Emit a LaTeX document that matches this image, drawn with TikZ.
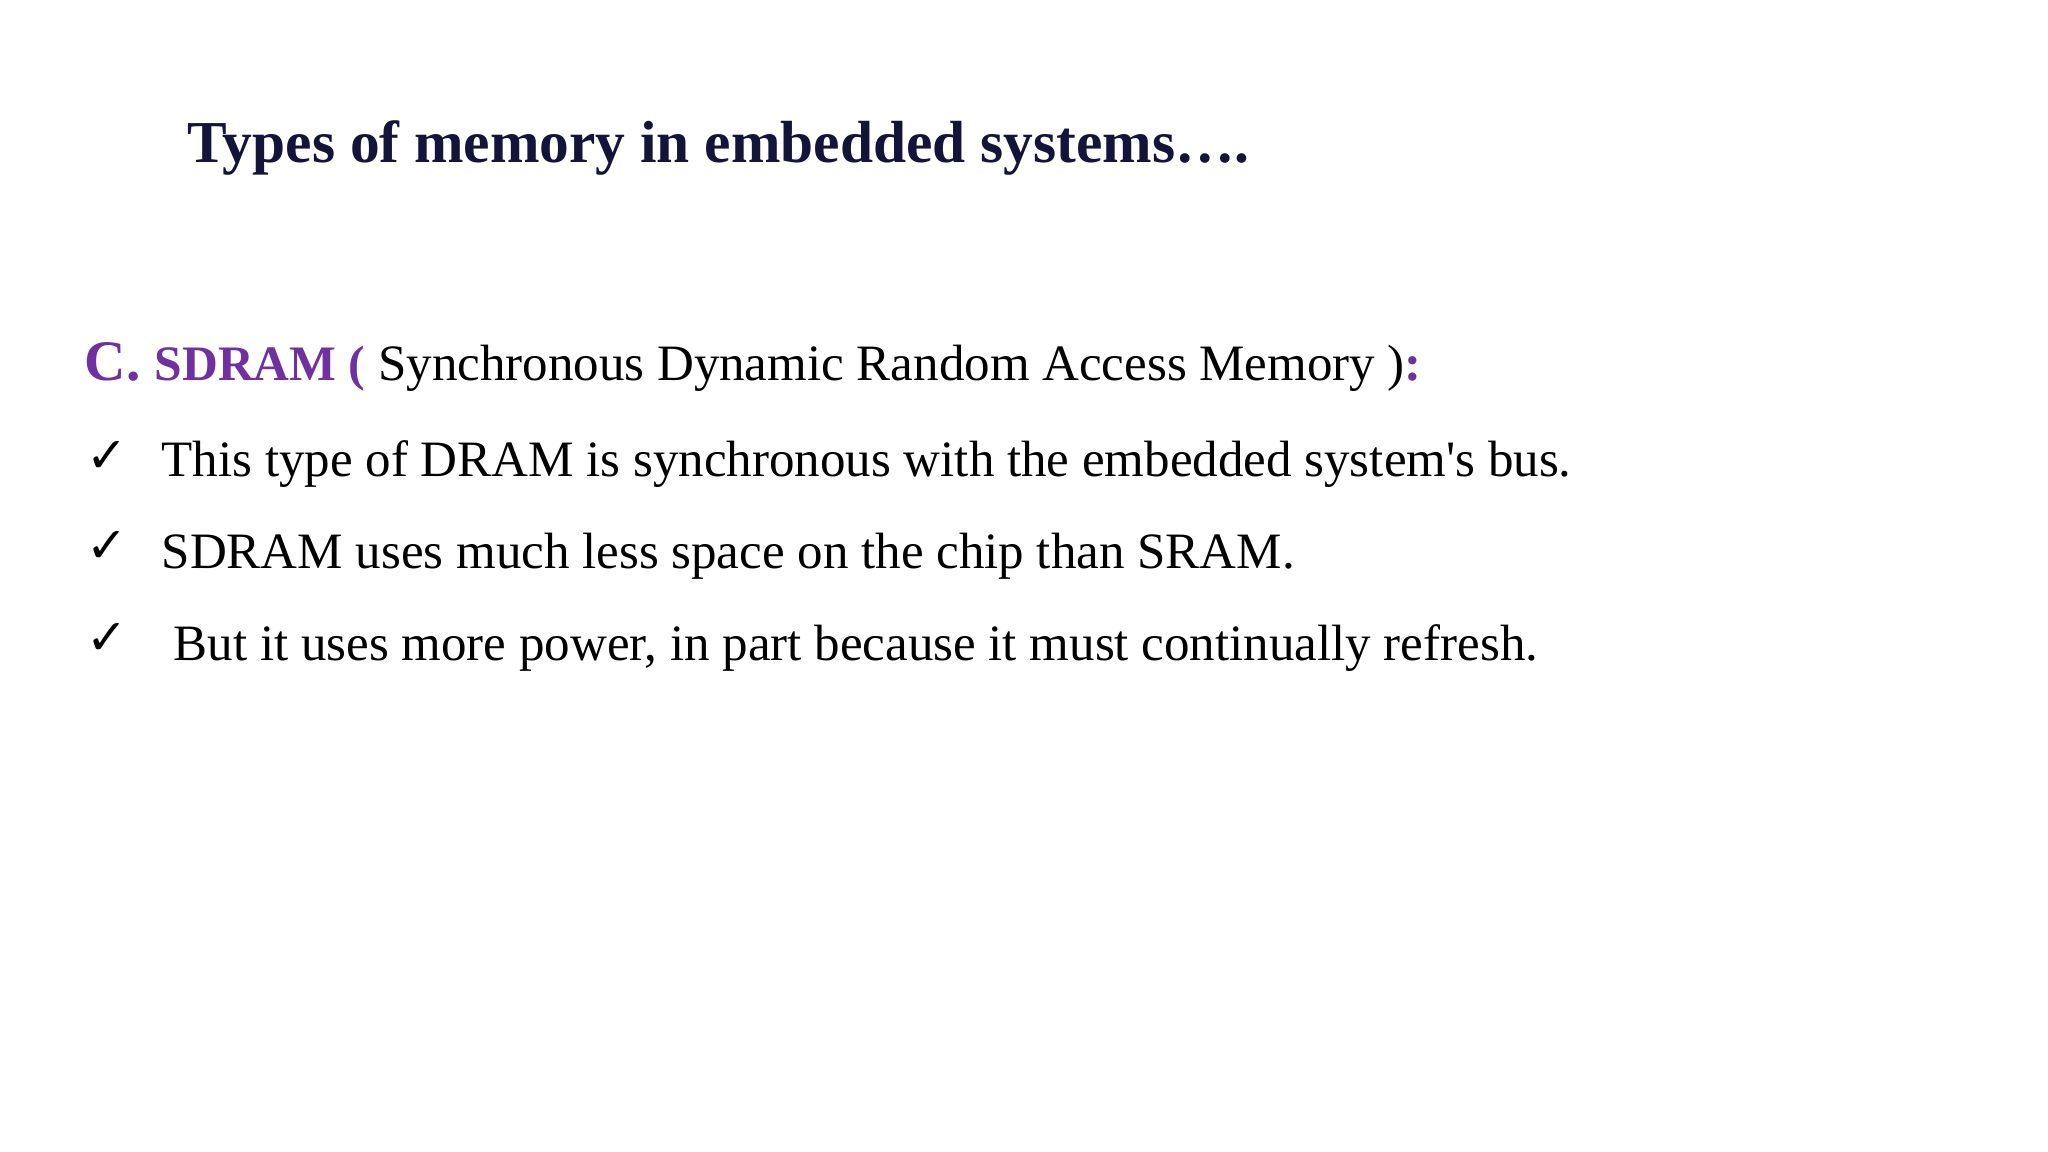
\documentclass[tikz,border=0pt]{standalone}
\usepackage{fontspec}
\setmainfont{Liberation Serif}
\newfontfamily\symf{DejaVu Sans}
\definecolor{navy}{HTML}{14143A}
\definecolor{purp}{HTML}{7030A0}
\begin{document}
\begin{tikzpicture}[x=0.01cm,y=-0.01cm,
  txt/.style={anchor=base west,inner sep=0pt,font=\fontsize{14.5}{18}\selectfont},
  chk/.style={anchor=base west,inner sep=0pt,font=\symf\bfseries\fontsize{14}{17}\selectfont}]
\useasboundingbox (0,0) rectangle (2048,1152);
\node[anchor=base west,inner sep=0pt,text=navy,font=\bfseries\fontsize{16.9}{21}\selectfont] (title) at (187,163) {Types of memory in embedded systems….};
\node[anchor=base west,inner sep=0pt] (head) at (84,381) {\textcolor{purp}{\bfseries\fontsize{16.3}{20}\selectfont C. \fontsize{14.1}{18}\selectfont SDRAM (}\fontsize{14.5}{18}\selectfont\ Synchronous Dynamic Random Access Memory )\textcolor{purp}{\bfseries :}};
\node[chk] (c1) at (86,472) {✓};
\node[txt] (b1) at (161,477) {This type of DRAM is synchronous with the embedded system\textquotesingle s bus.};
\node[chk] (c2) at (86,563) {✓};
\node[txt] (b2) at (161,568) {SDRAM uses much less space on the chip than SRAM.};
\node[chk] (c3) at (86,655) {✓};
\node[txt] (b3) at (173,660) {But it uses more power, in part because it must continually refresh.};
\end{tikzpicture}
\end{document}
